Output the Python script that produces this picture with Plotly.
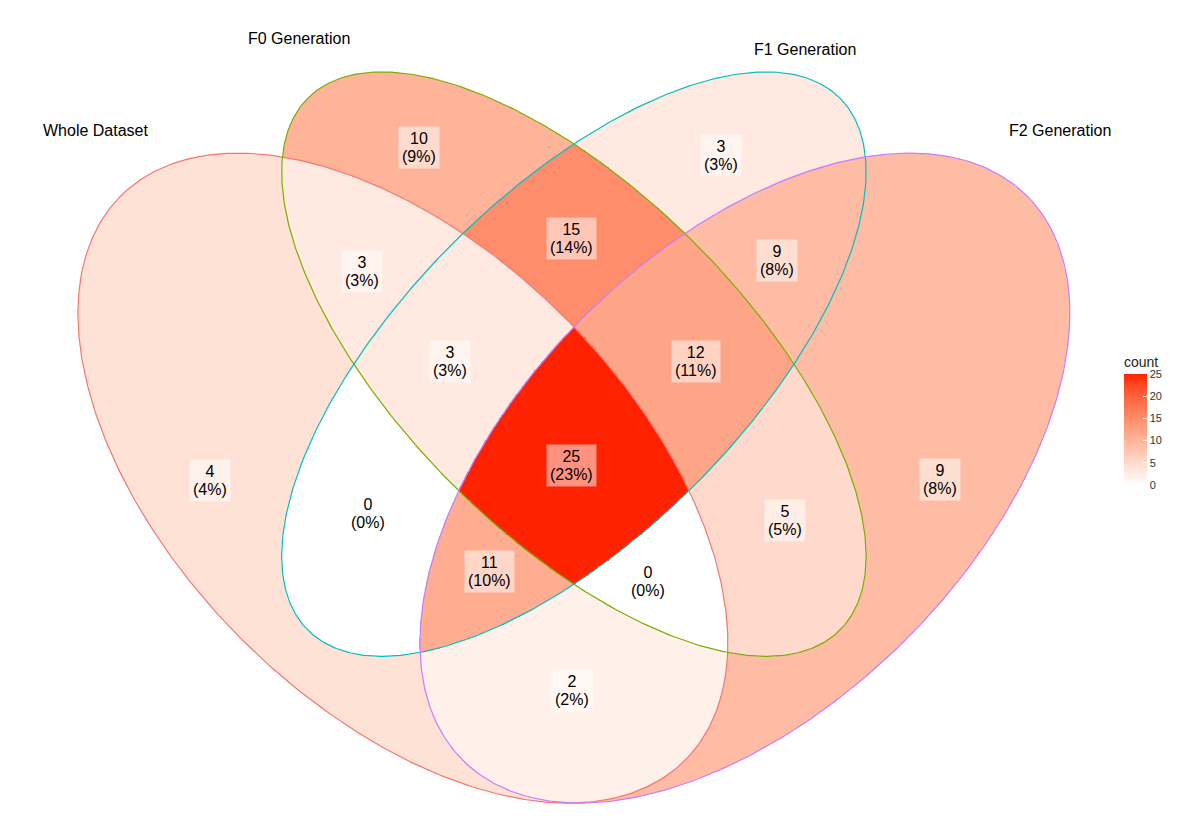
import numpy as np
import plotly.graph_objects as go

# four sets, ggVennDiagram-style ellipses
set_names = ["Whole Dataset", "F0 Generation", "F1 Generation", "F2 Generation"]
set_colors = ["#F8766D", "#7CAE00", "#00BFC4", "#C77CFF"]

# ellipse parameters: x0, y0, a, b, rotation (deg)
ellipses = [
    (0.35, 0.47, 0.35, 0.20, 135),
    (0.50, 0.57, 0.33, 0.15, 135),
    (0.50, 0.57, 0.33, 0.15, 45),
    (0.65, 0.47, 0.35, 0.20, 45),
]

# region -> count (letters = sets A..D the region belongs to)
region_sets = ["A", "B", "C", "D", "AB", "AC", "AD", "BC", "BD", "CD",
               "ABC", "ABD", "ACD", "BCD", "ABCD"]
region_counts = [4, 10, 3, 9, 3, 0, 2, 15, 5, 9, 3, 0, 11, 12, 25]

# label anchors (shape coordinates, like the package's stored label points)
set_label_xy = [(0.080, 0.775), (0.259, 0.856), (0.703, 0.846), (0.926, 0.775)]
region_label_xy = [
    (0.181, 0.468), (0.364, 0.760), (0.629, 0.753), (0.821, 0.469),
    (0.314, 0.651), (0.319, 0.439), (0.498, 0.284), (0.498, 0.680),
    (0.685, 0.433), (0.678, 0.661), (0.391, 0.572), (0.565, 0.379),
    (0.426, 0.388), (0.607, 0.572), (0.498, 0.481),
]

low_col = "#FFFFFF"
high_col = "#FF2200"


def hex_to_lab(h):
    rgb = np.array([int(h[i:i + 2], 16) for i in (1, 3, 5)]) / 255.0
    lin = np.where(rgb <= 0.04045, rgb / 12.92, ((rgb + 0.055) / 1.055) ** 2.4)
    m = np.array([[0.4124, 0.3576, 0.1805],
                  [0.2126, 0.7152, 0.0722],
                  [0.0193, 0.1192, 0.9505]])
    xyz = m @ lin / np.array([0.95047, 1.0, 1.08883])
    f = np.where(xyz > 0.008856, np.cbrt(xyz), 7.787 * xyz + 16 / 116)
    return np.array([116 * f[1] - 16, 500 * (f[0] - f[1]), 200 * (f[1] - f[2])])


def lab_to_hex(lab):
    fy = (lab[0] + 16) / 116
    fx = fy + lab[1] / 500
    fz = fy - lab[2] / 200
    f = np.array([fx, fy, fz])
    xyz = np.where(f ** 3 > 0.008856, f ** 3, (f - 16 / 116) / 7.787)
    xyz = xyz * np.array([0.95047, 1.0, 1.08883])
    m = np.array([[3.2406, -1.5372, -0.4986],
                  [-0.9689, 1.8758, 0.0415],
                  [0.0557, -0.2040, 1.0570]])
    lin = np.clip(m @ xyz, 0, 1)
    rgb = np.where(lin <= 0.0031308, 12.92 * lin, 1.055 * lin ** (1 / 2.4) - 0.055)
    rgb = np.clip(np.round(rgb * 255), 0, 255).astype(int)
    return "#%02X%02X%02X" % tuple(rgb)


def inside(X, Y, p):
    x0, y0, a, b, ang = p
    t = np.deg2rad(ang)
    dx, dy = X - x0, Y - y0
    u = dx * np.cos(t) + dy * np.sin(t)
    v = -dx * np.sin(t) + dy * np.cos(t)
    return (u / a) ** 2 + (v / b) ** 2 <= 1


def outline(p, n=500):
    x0, y0, a, b, ang = p
    t = np.deg2rad(ang)
    s = np.linspace(0, 2 * np.pi, n)
    return (x0 + a * np.cos(s) * np.cos(t) - b * np.sin(s) * np.sin(t),
            y0 + a * np.cos(s) * np.sin(t) + b * np.sin(s) * np.cos(t))


# lab-space gradient like ggplot's scale_fill_gradient
lab_lo, lab_hi = hex_to_lab(low_col), hex_to_lab(high_col)
colorscale = [[k / 10, lab_to_hex(lab_lo + (lab_hi - lab_lo) * k / 10)] for k in range(11)]

# rasterise regions
xs = np.arange(0.06, 0.94, 0.001)
ys = np.arange(0.18, 0.83, 0.001)
X, Y = np.meshgrid(xs, ys)
code = np.zeros(X.shape, dtype=int)
for i, p in enumerate(ellipses):
    code |= inside(X, Y, p).astype(int) << i

lookup = np.full(16, np.nan)
for s, c in zip(region_sets, region_counts):
    lookup[sum(1 << "ABCD".index(ch) for ch in s)] = c
Z = lookup[code]

total = sum(region_counts)

# page has an 8px body margin; figure sized to fit the window
W, H = 1180, 814
scale = 1140.0  # px per shape unit
x_lo = 0.065 + (8 - 78) / scale
y_hi = 0.185 + (803 - 8) / scale

fig = go.Figure()
fig.add_trace(go.Heatmap(
    x=xs, y=ys, z=Z, zmin=0, zmax=25, zsmooth=False,
    colorscale=colorscale, hoverinfo="skip",
    colorbar=dict(
        title=dict(text="count", side="top", font=dict(size=14, color="#222")),
        x=(1124 - 8) / W, xanchor="left", xpad=0,
        y=1 - (485 - 8) / H, yanchor="bottom", ypad=0,
        lenmode="pixels", len=132, thickness=23, outlinewidth=0,
        tickvals=[0, 5, 10, 15, 20, 25], ticks="inside", ticklen=4,
        tickcolor="white", tickfont=dict(size=11, color="#333"),
    ),
))

for p, col in zip(ellipses, set_colors):
    ex, ey = outline(p)
    fig.add_trace(go.Scatter(x=ex, y=ey, mode="lines", line=dict(color=col, width=1.2),
                             hoverinfo="skip", showlegend=False))

for name, (lx, ly) in zip(set_names, set_label_xy):
    fig.add_annotation(x=lx, y=ly, text=name, showarrow=False,
                       font=dict(size=16, color="black"))

for (lx, ly), c in zip(region_label_xy, region_counts):
    pct = round(100 * c / total)
    txt = (f"<span style='font-size:16px'>{c}</span><br>"
           f"<span style='font-size:16px'>({pct}%)</span>")
    fig.add_annotation(x=lx, y=ly, text=txt, showarrow=False,
                       font=dict(size=13.5, color="black"),
                       bgcolor="rgba(255,255,255,0.5)", borderpad=3)

fig.update_layout(
    width=W, height=H,
    margin=dict(l=0, r=0, t=0, b=0),
    plot_bgcolor="white", paper_bgcolor="white",
    font=dict(family="Liberation Sans, Arial, sans-serif"),
    showlegend=False,
    xaxis=dict(range=[x_lo, x_lo + W / scale], visible=False, fixedrange=True),
    yaxis=dict(range=[y_hi - H / scale, y_hi], visible=False, fixedrange=True,
               scaleanchor="x", scaleratio=1),
)

fig.write_html("out.html")
